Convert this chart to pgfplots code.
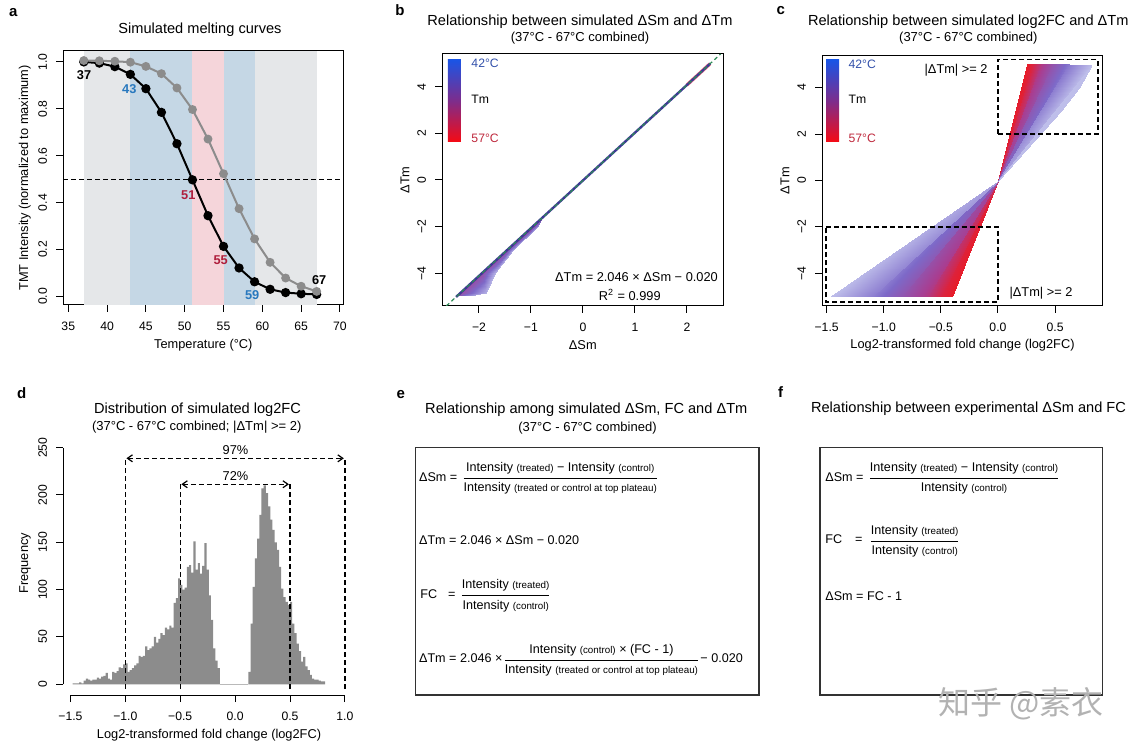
\documentclass[border=0pt]{standalone}
\usepackage{fontspec}
\setmainfont{Liberation Sans}
\newfontfamily\cjk{Noto Sans CJK SC}
\usepackage{pgfplots}
\usepackage{pgfplotstable}
\pgfplotsset{compat=1.18}
\usetikzlibrary{arrows.meta}

\definecolor{bandgray}{RGB}{229,231,233}
\definecolor{bandblue}{RGB}{197,215,229}
\definecolor{bandpink}{RGB}{245,213,218}
\definecolor{curvegray}{RGB}{140,140,140}
\definecolor{lblue}{RGB}{40,120,190}
\definecolor{lred}{RGB}{175,30,60}
\definecolor{histgray}{RGB}{140,140,140}
\definecolor{cbblue}{RGB}{25,85,230}
\definecolor{cbpurple}{RGB}{125,45,140}
\definecolor{cbred}{RGB}{245,10,20}
\definecolor{cbtxtblue}{RGB}{50,80,170}
\definecolor{cbtxtred}{RGB}{190,40,60}
\definecolor{seagreen}{RGB}{46,139,87}
\definecolor{linepurple}{RGB}{62,55,150}
\definecolor{boxgray}{RGB}{50,50,50}

\pgfplotsset{colormap={fan}{rgb255=(190,190,234) rgb255=(125,105,200) rgb255=(168,62,145) rgb255=(232,28,40)}}

\newcommand\tkfont{\fontsize{6.1}{7}\selectfont}
\newcommand\lbfont{\fontsize{6.4}{7.5}\selectfont}
\newcommand\ttfont{\fontsize{7.3}{8.5}\selectfont}
\newcommand\stfont{\fontsize{6.5}{7.5}\selectfont}
\newcommand\eqfont{\fontsize{6.3}{7.5}\selectfont}
\newcommand\sm[1]{{\fontsize{4.9}{5.5}\selectfont #1}}

\pgfplotsset{rstyle/.style={scale only axis, tick pos=left, tick align=outside,
  major tick length=3.5pt, axis line style={line width=0.5pt},
  every tick/.style={black, line width=0.5pt},
  ticklabel style={font=\tkfont},
  /pgf/number format/assume math mode=true,
  xticklabel style={anchor=center, yshift=-7pt},
  yticklabel style={xshift=-6.8pt, rotate=90, anchor=center},
  label style={font=\lbfont}}}

\pgfplotstableread{
x y
-1.48 1
-1.46 1
-1.44 1
-1.42 2
-1.40 1
-1.38 4
-1.36 6
-1.34 5
-1.32 4
-1.30 5
-1.28 5
-1.26 7
-1.24 6
-1.22 8
-1.20 9
-1.18 12
-1.16 6
-1.14 5
-1.12 13
-1.10 12
-1.08 14
-1.06 18
-1.04 17
-1.02 21
-1.00 22
-0.98 13
-0.96 15
-0.94 17
-0.92 20
-0.90 22
-0.88 30
-0.86 29
-0.84 30
-0.82 40
-0.80 36
-0.78 38
-0.76 40
-0.74 50
-0.72 44
-0.70 48
-0.68 54
-0.66 52
-0.64 60
-0.62 58
-0.60 62
-0.58 60
-0.56 86
-0.54 91
-0.52 112
-0.50 105
-0.48 100
-0.46 102
-0.44 124
-0.42 126
-0.40 118
-0.38 151
-0.36 121
-0.34 128
-0.32 117
-0.30 125
-0.28 149
-0.26 121
-0.24 94
-0.22 68
-0.20 38
-0.18 25
-0.16 17
-0.14 0
-0.12 0
-0.10 0
-0.08 0
-0.06 0
-0.04 0
-0.02 0
0.00 0
0.02 0
0.04 0
0.06 0
0.08 0
0.10 0
0.12 13
0.14 64
0.16 103
0.18 133
0.20 154
0.22 179
0.24 207
0.26 210
0.28 202
0.30 188
0.32 174
0.34 163
0.36 150
0.38 142
0.40 124
0.42 101
0.44 92
0.46 87
0.48 84
0.50 87
0.52 64
0.54 54
0.56 43
0.58 35
0.60 24
0.62 29
0.64 19
0.66 15
0.68 10
0.70 6
0.72 5
0.74 5
0.76 4
0.78 3
0.80 3
0.82 0
}\histdata

\begin{document}
\begin{tikzpicture}
\path[use as bounding box] (0pt,0pt) rectangle (569.5pt,375pt);

% ---------------- panel a ----------------
\begin{axis}[rstyle, at={(31.65pt,222.5pt)}, anchor=south west,
  width=140pt, height=127.15pt,
  xmin=34.36, xmax=70.43, ymin=-0.037, ymax=1.048,
  xtick={35,40,45,50,55,60,65,70}, xticklabels={35,40,45,50,55,60,65,70},
  ytick={0,0.2,0.4,0.6,0.8,1}, yticklabels={0.0,0.2,0.4,0.6,0.8,1.0},
  xlabel={Temperature (°C)}, ylabel={TMT Intensity (normalized to maximum)},
  xlabel style={at={(axis description cs:0.5,-0.157)}, anchor=center},
  ylabel style={at={(axis description cs:-0.137,0.5)}, anchor=center}]
\fill[bandgray] (axis cs:37,-0.037) rectangle (axis cs:43,1.048);
\fill[bandblue] (axis cs:43,-0.037) rectangle (axis cs:51,1.048);
\fill[bandpink] (axis cs:51,-0.037) rectangle (axis cs:55,1.048);
\fill[bandblue] (axis cs:55,-0.037) rectangle (axis cs:59,1.048);
\fill[bandgray] (axis cs:59,-0.037) rectangle (axis cs:67,1.048);
\addplot[black, line width=0.6pt, dash pattern=on 2.5pt off 1.5pt] coordinates {(34.36,0.5) (70.43,0.5)};
\addplot[black, line width=1pt, mark=*, mark size=1.8pt, mark options={solid, fill=black}] coordinates {
(37,1.000) (39,0.995) (41,0.980) (43,0.947) (45,0.886) (47,0.785) (49,0.651) (51,0.497)
(53,0.344) (55,0.213) (57,0.121) (59,0.062) (61,0.030) (63,0.016) (65,0.011) (67,0.008)};
\addplot[curvegray, line width=1pt, mark=*, mark size=1.7pt, mark options={solid, fill=curvegray, draw=curvegray}] coordinates {
(37,1.006) (39,1.005) (41,1.003) (43,0.999) (45,0.981) (47,0.950) (49,0.889) (51,0.797)
(53,0.671) (55,0.523) (57,0.374) (59,0.245) (61,0.145) (63,0.078) (65,0.043) (67,0.021)};
\node[font=\bfseries\lbfont, black] at (axis cs:37.03,0.942) {37};
\node[font=\bfseries\lbfont, lblue] at (axis cs:42.86,0.885) {43};
\node[font=\bfseries\lbfont, lred] at (axis cs:50.46,0.43) {51};
\node[font=\bfseries\lbfont, lred] at (axis cs:54.63,0.154) {55};
\node[font=\bfseries\lbfont, lblue] at (axis cs:58.70,0.007) {59};
\node[font=\bfseries\lbfont, black] at (axis cs:67.33,0.071) {67};
\end{axis}

% ---------------- panel b ----------------
\begin{axis}[rstyle, at={(221.15pt,222pt)}, anchor=south west,
  width=140.5pt, height=126pt,
  xmin=-2.705, xmax=2.70, ymin=-5.4, ymax=5.4,
  xtick={-2,-1,0,1,2}, xticklabels={−2,−1,0,1,2},
  ytick={-4,-2,0,2,4}, yticklabels={−4,−2,0,2,4},
  xlabel={ΔSm}, ylabel={ΔTm},
  xlabel style={at={(axis description cs:0.5,-0.155)}, anchor=center},
  ylabel style={at={(axis description cs:-0.133,0.5)}, anchor=center},
  colormap name=fan, point meta min=0, point meta max=1]
\addplot[patch, patch type=triangle, shader=interp, point meta=explicit] table[meta index=2] {
-0.80 -1.657 0.50
-0.89 -2.00 0.15
-0.968 -2.00 0.55
-0.968 -2.00 0.55
-0.89 -2.00 0.15
-1.34 -3.00 0.10
-0.968 -2.00 0.55
-1.34 -3.00 0.10
-1.456 -3.00 0.55
-1.456 -3.00 0.55
-1.34 -3.00 0.10
-1.69 -4.00 0.05
-1.456 -3.00 0.55
-1.69 -4.00 0.05
-1.945 -4.00 0.55
-1.945 -4.00 0.55
-1.69 -4.00 0.05
-1.86 -4.85 0.05
-1.945 -4.00 0.55
-1.86 -4.85 0.05
-2.36 -4.85 0.55
-2.36 -4.85 0.55
-1.86 -4.85 0.05
-2.20 -4.97 0.15
-2.36 -4.85 0.55
-2.20 -4.97 0.15
-2.42 -4.97 0.55
};
\addplot[cbred!70!white, line width=1.7pt, opacity=0.8] coordinates {(2.0,4.072) (2.44,4.972)};
\addplot[linepurple, line width=1.2pt] coordinates {(-2.44,-5.012) (2.45,4.993)};
\addplot[seagreen, line width=0.6pt, dash pattern=on 2pt off 1.5pt] coordinates {(-2.6295,-5.4) (2.649,5.4)};
\shade[top color=cbblue, bottom color=cbred, middle color=cbpurple] (axis cs:-2.60,1.64) rectangle (axis cs:-2.346,5.17);
\node[font=\tkfont, cbtxtblue, anchor=west] at (axis cs:-2.28,5.0) {42°C};
\node[font=\tkfont, black, anchor=west] at (axis cs:-2.28,3.46) {Tm};
\node[font=\tkfont, cbtxtred, anchor=west] at (axis cs:-2.28,1.79) {57°C};
\node[font=\lbfont] at (axis cs:1.03,-4.14) {ΔTm = 2.046 × ΔSm − 0.020};
\node[font=\lbfont] at (axis cs:0.90,-4.93) {R\textsuperscript{2} = 0.999};
\end{axis}

% ---------------- panel c ----------------
\begin{axis}[rstyle, at={(411.15pt,222pt)}, anchor=south west,
  width=140.2pt, height=125.5pt,
  xmin=-1.538, xmax=0.917, ymin=-5.4, ymax=5.4,
  xtick={-1.5,-1,-0.5,0,0.5}, xticklabels={−1.5,−1.0,−0.5,0.0,0.5},
  ytick={-4,-2,0,2,4}, yticklabels={−4,−2,0,2,4},
  xlabel={Log2-transformed fold change (log2FC)}, ylabel={ΔTm},
  xlabel style={at={(axis description cs:0.5,-0.155)}, anchor=center},
  ylabel style={at={(axis description cs:-0.133,0.5)}, anchor=center},
  colormap name=fan, point meta min=0, point meta max=1]
\addplot[patch, patch type=triangle, shader=interp, point meta=explicit] table[meta index=2] {
0 0 0.96
0.254 5.0 1.0
0.31 5.0 0.92
0 0 0.82
0.31 5.0 0.92
0.38 5.0 0.72
0 0 0.61
0.38 5.0 0.72
0.48 5.0 0.5
0 0 0.39
0.48 5.0 0.5
0.62 5.0 0.28
0 0 0.14
0.62 5.0 0.28
0.82 4.95 0.0
0 0 0.0
0.82 4.95 0.0
0.71 4.0 0.0
0 0 0.0
0.71 4.0 0.0
0.55 3.0 0.0
0 0 0.0
0.55 3.0 0.0
0.33 2.0 0.0
0 0 0.96
-0.40 -5.0 1.0
-0.50 -5.0 0.92
0 0 0.82
-0.50 -5.0 0.92
-0.62 -5.0 0.72
0 0 0.6
-0.62 -5.0 0.72
-0.85 -5.0 0.48
0 0 0.37
-0.85 -5.0 0.48
-1.10 -5.0 0.25
0 0 0.12
-1.10 -5.0 0.25
-1.46 -4.95 0.0
};
\addplot[black, line width=0.7pt, dash pattern=on 2.5pt off 1.5pt] coordinates {(0,2) (0.875,2) (0.875,5.2) (0,5.2) (0,2)};
\addplot[black, line width=0.7pt, dash pattern=on 2.5pt off 1.5pt] coordinates {(-1.507,-2) (0,-2) (0,-5.23) (-1.507,-5.23) (-1.507,-2)};
\node[font=\lbfont, anchor=east] at (axis cs:-0.03,4.76) {|ΔTm| >= 2};
\node[font=\lbfont, anchor=west] at (axis cs:0.04,-4.83) {|ΔTm| >= 2};
\shade[top color=cbblue, bottom color=cbred, middle color=cbpurple] (axis cs:-1.504,1.66) rectangle (axis cs:-1.39,5.19);
\node[font=\tkfont, cbtxtblue, anchor=west] at (axis cs:-1.37,5.02) {42°C};
\node[font=\tkfont, black, anchor=west] at (axis cs:-1.37,3.48) {Tm};
\node[font=\tkfont, cbtxtred, anchor=west] at (axis cs:-1.37,1.81) {57°C};
\end{axis}

% ---------------- panel d ----------------
\begin{axis}[rstyle, at={(31.65pt,27.5pt)}, anchor=south west,
  width=146.3pt, height=128.9pt, clip=false,
  xmin=-1.565, xmax=1.1, ymin=-11.3, ymax=261,
  axis line style={draw=none},
  xtick={-1.5,-1,-0.5,0,0.5,1}, xticklabels={−1.5,−1.0,−0.5,0.0,0.5,1.0},
  ytick={0,50,100,150,200,250}, yticklabels={0,50,100,150,200,250},
  xlabel={Log2-transformed fold change (log2FC)}, ylabel={Frequency},
  xlabel style={at={(axis description cs:0.498,-0.155)}, anchor=center},
  ylabel style={at={(axis description cs:-0.131,0.511)}, anchor=center}]
\addplot[ybar interval, fill=histgray, draw=none] table[x=x, y=y] {\histdata};
\addplot[gray!55, line width=0.3pt] coordinates {(-0.14,0) (0.12,0)};
\draw[line width=0.5pt] (axis cs:-1.5,-11.3) -- (axis cs:1,-11.3);
\draw[line width=0.5pt] (axis cs:-1.565,0) -- (axis cs:-1.565,250);
\addplot[black, line width=0.7pt, dash pattern=on 2.5pt off 1.5pt] coordinates {(-1,-5) (-1,238.7)};
\addplot[black, line width=0.7pt, dash pattern=on 2.5pt off 1.5pt] coordinates {(1,-5) (1,238.7)};
\addplot[black, line width=0.7pt, dash pattern=on 2.5pt off 1.5pt] coordinates {(-0.5,-5) (-0.5,211.3)};
\addplot[black, line width=0.7pt, dash pattern=on 2.5pt off 1.5pt] coordinates {(0.5,-5) (0.5,211.3)};
\addplot[black, line width=0.6pt, dash pattern=on 2.5pt off 1.5pt, {Straight Barb[length=2.5pt,width=3.5pt]}-{Straight Barb[length=2.5pt,width=3.5pt]}] coordinates {(-0.99,238.7) (0.99,238.7)};
\addplot[black, line width=0.6pt, dash pattern=on 2.5pt off 1.5pt, {Straight Barb[length=2.5pt,width=3.5pt]}-{Straight Barb[length=2.5pt,width=3.5pt]}] coordinates {(-0.49,211.3) (0.49,211.3)};
\node[font=\lbfont] at (axis cs:0.003,247.5) {97\%};
\node[font=\lbfont] at (axis cs:0.003,220.4) {72\%};
\end{axis}

% ---------------- titles, letters, panels e and f ----------------
\begin{scope}[x=0.5pt,y=0.5pt]
\node[font=\bfseries\fontsize{7.5}{8}\selectfont] at (13.3,737.3) {a};
\node[font=\bfseries\fontsize{7.5}{8}\selectfont] at (400,740) {b};
\node[font=\bfseries\fontsize{7.5}{8}\selectfont] at (780.7,739.3) {c};
\node[font=\bfseries\fontsize{7.5}{8}\selectfont] at (21.7,356.7) {d};
\node[font=\bfseries\fontsize{7.5}{8}\selectfont] at (400.7,355) {e};
\node[font=\bfseries\fontsize{7.5}{8}\selectfont] at (780.7,357.7) {f};

\node[font=\ttfont] at (200,720) {Simulated melting curves};
\node[font=\ttfont] at (580,728.3) {Relationship between simulated ΔSm and ΔTm};
\node[font=\stfont] at (580,711.7) {(37°C - 67°C combined)};
\node[font=\ttfont] at (968.3,728.3) {Relationship between simulated log2FC and ΔTm};
\node[font=\stfont] at (968.3,711.7) {(37°C - 67°C combined)};
\node[font=\ttfont] at (197.5,340.7) {Distribution of simulated log2FC};
\node[font=\stfont] at (196.7,323.3) {(37°C - 67°C combined; |ΔTm| >= 2)};
\node[font=\ttfont] at (586.3,340.7) {Relationship among simulated ΔSm, FC and ΔTm};
\node[font=\stfont] at (587.5,322.3) {(37°C - 67°C combined)};
\node[font=\ttfont] at (968.5,341) {Relationship between experimental ΔSm and FC};

% panel e
\draw[boxgray, line width=0.7pt] (415.7,302.3) rectangle (759,55);
\node[font=\eqfont, anchor=west, inner sep=0pt] at (418.7,271.7)
  {ΔSm =\hspace{2pt}$\displaystyle\frac{\mbox{Intensity \sm{(treated)} − Intensity \sm{(control)}}}{\mbox{Intensity \sm{(treated or control at top plateau)}}}$};
\node[font=\eqfont, anchor=west, inner sep=0pt] at (418.7,210) {ΔTm = 2.046 × ΔSm − 0.020};
\node[font=\eqfont, anchor=west, inner sep=0pt] at (420,154.3)
  {FC\hspace{5.5pt}=\hspace{2pt}$\displaystyle\frac{\mbox{Intensity \sm{(treated)}}}{\mbox{Intensity \sm{(control)}}}$};
\node[font=\eqfont, anchor=west, inner sep=0pt] at (418.7,90)
  {ΔTm = 2.046 ×$\displaystyle\frac{\mbox{Intensity \sm{(control)} × (FC - 1)}}{\mbox{Intensity \sm{(treated or control at top plateau)}}}$− 0.020};

% panel f
\draw[boxgray, line width=0.7pt] (820,302.3) rectangle (1102.3,55);
\node[font=\eqfont, anchor=west, inner sep=0pt] at (825,271.7)
  {ΔSm =\hspace{2pt}$\displaystyle\frac{\mbox{Intensity \sm{(treated)} − Intensity \sm{(control)}}}{\mbox{Intensity \sm{(control)}}}$};
\node[font=\eqfont, anchor=west, inner sep=0pt] at (825,209)
  {FC\hspace{6.5pt}=\hspace{3pt}$\displaystyle\frac{\mbox{Intensity \sm{(treated)}}}{\mbox{Intensity \sm{(control)}}}$};
\node[font=\eqfont, anchor=west, inner sep=0pt] at (825,154.3) {ΔSm = FC - 1};

% watermark
\node[text={rgb,255:red,178;green,178;blue,178}, font=\cjk\fontsize{16}{16}\selectfont] at (1021,46) {知乎 @素衣};
\end{scope}
\end{tikzpicture}
\end{document}
